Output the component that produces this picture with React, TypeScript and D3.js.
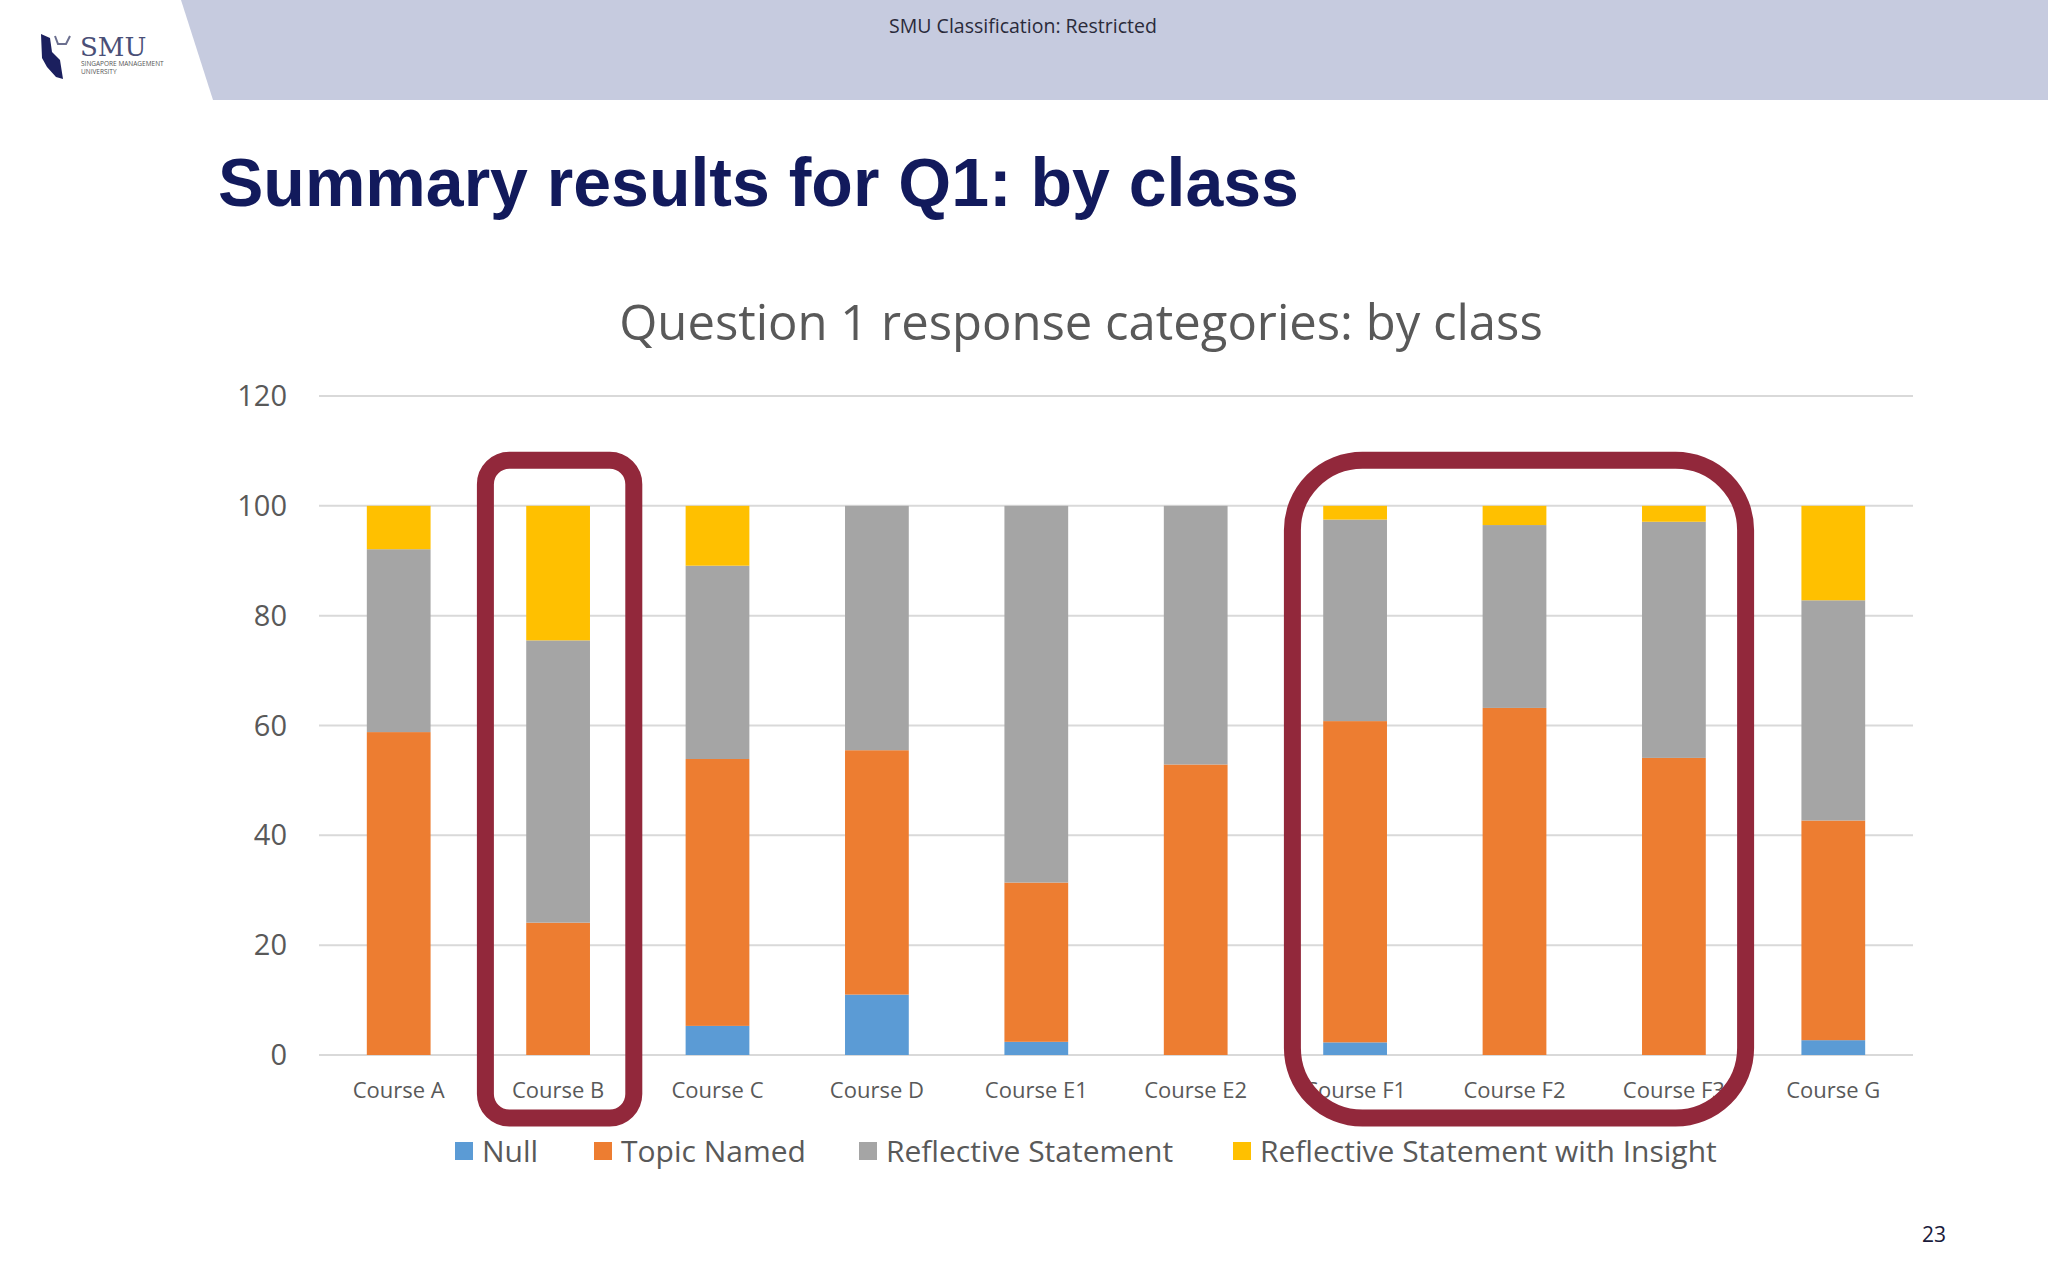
import React from "react";
import { scaleBand, scaleLinear, stack } from "d3";

// categories + values (percent of responses)
const categories = ["Course A", "Course B", "Course C", "Course D", "Course E1", "Course E2", "Course F1", "Course F2", "Course F3", "Course G"];
const nullPct = [0, 0, 5.3, 11.0, 2.4, 0, 2.3, 0, 0, 2.7];
const topicPct = [58.8, 24.1, 48.6, 44.5, 29.0, 52.9, 58.5, 63.2, 54.1, 40.0];
const reflectivePct = [33.3, 51.4, 35.2, 44.5, 68.6, 47.1, 36.7, 33.3, 43.0, 40.1];
const insightPct = [7.9, 24.5, 10.9, 0, 0, 0, 2.5, 3.5, 2.9, 17.2];

const seriesNames = ["Null", "Topic Named", "Reflective Statement", "Reflective Statement with Insight"];
const seriesColors = ["#5B9BD5", "#ED7D31", "#A5A5A5", "#FFC000"];
const yTicks = [0, 20, 40, 60, 80, 100, 120];

// red boxes drawn on the slide: [first, last]
const highlights = [
  { from: "Course B", to: "Course B", left: 7, right: 4, rx: 24 },
  { from: "Course F1", to: "Course F3", left: 17, right: 8, rx: 70 },
];

const W = 2048;
const H = 1280;
const font = "'Open Sans', sans-serif";

export default function App() {
  const x = scaleBand().domain(categories).range([319, 1913]).paddingInner(0.6).paddingOuter(0.3);
  const y = scaleLinear().domain([0, 120]).range([1055, 396]);

  const rows = categories.map((c, i) => ({
    cat: c,
    "Null": nullPct[i],
    "Topic Named": topicPct[i],
    "Reflective Statement": reflectivePct[i],
    "Reflective Statement with Insight": insightPct[i],
  }));
  const layers = stack().keys(seriesNames)(rows as any);

  const step = x.step();
  const bw = x.bandwidth();

  // legend layout
  const legendX = [455, 594, 859, 1233];

  return (
    <svg width={W} height={H} style={{ position: "absolute", left: 0, top: 0, background: "#fff" }}>
      {/* header band */}
      <polygon points={`181,0 ${W},0 ${W},100 213,100`} fill="#C6CBDF" />
      <text x={1023} y={33} textAnchor="middle" fontFamily={font} fontSize={19.5} fill="#2a2a3a">
        SMU Classification: Restricted
      </text>

      {/* logo */}
      <g>
        <path d="M41,34 L50,38 L52,52 L60,60 L63,79 L56,77 L47,67 L42,58 Z" fill="#1B1F5E" />
        <path d="M55,36 L58,44 L66,44 L70,36" fill="none" stroke="#6b6f8f" strokeWidth={2} />
        <text x={80} y={56} fontFamily="'DejaVu Serif', serif" fontSize={26} fill="#4a4f77">SMU</text>
        <text x={81} y={66} fontFamily={font} fontSize={6.5} fill="#555">SINGAPORE MANAGEMENT</text>
        <text x={81} y={74} fontFamily={font} fontSize={6.5} fill="#555">UNIVERSITY</text>
      </g>

      {/* slide title */}
      <text x={218} y={206} fontFamily="'Liberation Sans', Arial, sans-serif" fontWeight="bold" fontSize={68} fill="#121A5C">
        Summary results for Q1: by class
      </text>

      {/* chart title */}
      <text x={1081} y={340} textAnchor="middle" fontFamily={font} fontSize={49} fill="#595959">
        Question 1 response categories: by class
      </text>

      {/* gridlines + y labels */}
      {yTicks.map(t => (
        <g key={t}>
          <line x1={319} x2={1913} y1={y(t)} y2={y(t)} stroke="#D9D9D9" strokeWidth={2} />
          <text x={287} y={y(t)} dy="0.35em" textAnchor="end" fontFamily={font} fontSize={29} fill="#595959">
            {t}
          </text>
        </g>
      ))}

      {/* bars */}
      {layers.map((layer, si) => (
        <g key={seriesNames[si]} fill={seriesColors[si]}>
          {layer.map((d, i) => {
            const h = y(d[0]) - y(d[1]);
            if (h <= 0) return null;
            return <rect key={categories[i]} x={x(categories[i])} y={y(d[1])} width={bw} height={h} />;
          })}
        </g>
      ))}

      {/* category labels */}
      {categories.map(c => (
        <text key={c} x={(x(c) as number) + bw / 2} y={1098} textAnchor="middle" fontFamily={font} fontSize={22} fill="#595959">
          {c}
        </text>
      ))}

      {/* legend */}
      {seriesNames.map((s, i) => (
        <g key={s}>
          <rect x={legendX[i]} y={1142} width={18} height={18} fill={seriesColors[i]} />
          <text x={legendX[i] + 27} y={1162} fontFamily={font} fontSize={30} fill="#595959">
            {s}
          </text>
        </g>
      ))}

      {/* highlight boxes */}
      {highlights.map(hl => {
        const bandL = (x(hl.from) as number) - (step - bw) / 2;
        const bandR = (x(hl.to) as number) + bw + (step - bw) / 2;
        const x0 = bandL + hl.left;
        const x1 = bandR - hl.right;
        const y0 = y(108.3);
        const y1 = y(0) + 63;
        return (
          <rect key={hl.from} x={x0} y={y0} width={x1 - x0} height={y1 - y0} rx={hl.rx} ry={hl.rx}
            fill="none" stroke="#92283B" strokeWidth={17} />
        );
      })}

      {/* page number */}
      <text x={1934} y={1242} textAnchor="middle" fontFamily={font} fontSize={21} fill="#1a1a3a">23</text>
    </svg>
  );
}
